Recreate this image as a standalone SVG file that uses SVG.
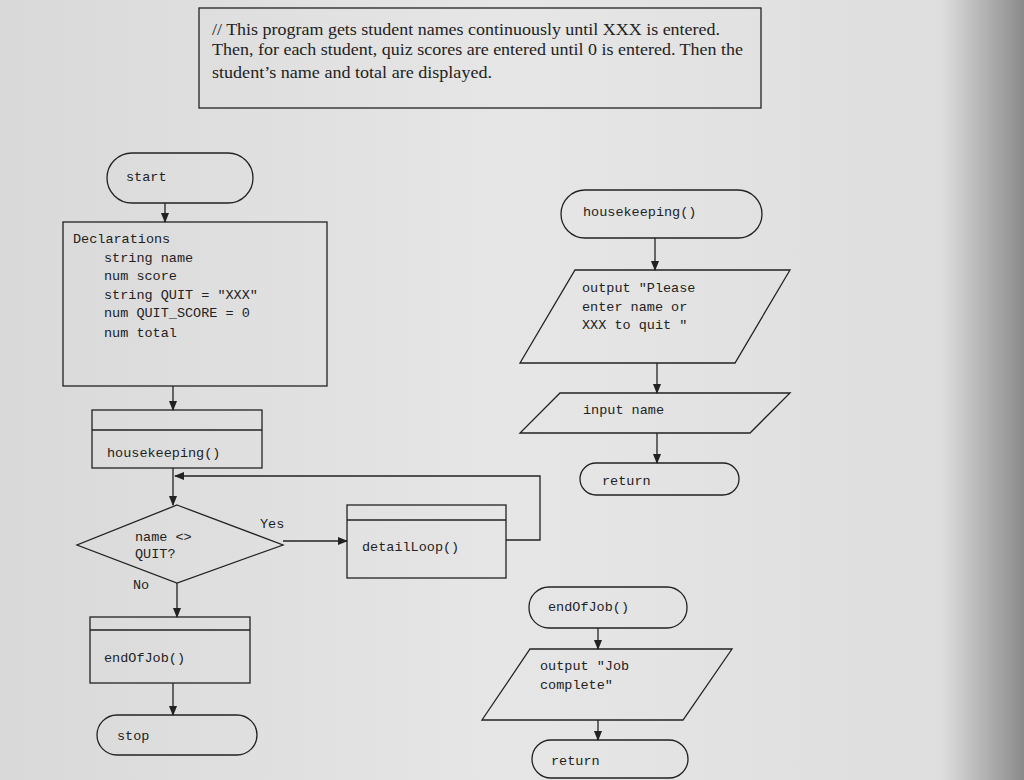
<svg xmlns="http://www.w3.org/2000/svg" width="1024" height="780" viewBox="0 0 1024 780">
<defs>
<linearGradient id="bg" x1="0" y1="0" x2="1" y2="0"><stop offset="0" stop-color="#d9d9d9"/><stop offset="0.5" stop-color="#e6e6e6"/><stop offset="0.92" stop-color="#dedede"/><stop offset="1" stop-color="#8a8a8a"/></linearGradient>
<marker id="ah" viewBox="0 0 10 10" refX="9" refY="5" markerWidth="8" markerHeight="8" orient="auto"><path d="M0,1 L10,5 L0,9 Z" fill="#222"/></marker>
</defs>
<style>
.s{fill:none;stroke:#222;stroke-width:1.3}
.c{stroke:#222;stroke-width:1.3;fill:none;marker-end:url(#ah)}
.m{font-family:"Liberation Mono",monospace;font-size:13.5px;fill:#222}
.t{font-family:"Liberation Serif",serif;font-size:17px;fill:#222}
</style>
<rect width="1024" height="780" fill="url(#bg)"/>
<g id="comment"><rect class="s" x="199" y="8" width="562" height="100"/>
<text class="t" x="212" y="35" textLength="508" lengthAdjust="spacingAndGlyphs">// This program gets student names continuously until XXX is entered.</text>
<text class="t" x="212" y="55" textLength="531" lengthAdjust="spacingAndGlyphs">Then, for each student, quiz scores are entered until 0 is entered. Then the</text>
<text class="t" x="212" y="78" textLength="280" lengthAdjust="spacingAndGlyphs">student’s name and total are displayed.</text></g>
<g id="start"><rect class="s" x="107" y="153" width="146" height="50" rx="25"/><text class="m" x="126" y="181">start</text></g>
<g id="decl"><rect class="s" x="63" y="222" width="264" height="164"/>
<text class="m" x="73" y="243">Declarations</text><text class="m" x="104" y="262">string name</text><text class="m" x="104" y="280">num score</text><text class="m" x="104" y="299">string QUIT = "XXX"</text><text class="m" x="104" y="317">num QUIT_SCORE = 0</text><text class="m" x="104" y="337">num total</text></g>
<g id="hk"><rect class="s" x="92" y="410" width="170" height="58"/><line class="s" x1="92" y1="430" x2="262" y2="430"/><text class="m" x="107" y="457">housekeeping()</text></g>
<g id="dec"><polygon class="s" points="177,505 283,545 177,583 77,545"/><text class="m" x="135" y="541">name &lt;&gt;</text><text class="m" x="135" y="558">QUIT?</text></g>
<g id="dl"><rect class="s" x="347" y="505" width="159" height="73"/><line class="s" x1="347" y1="520" x2="506" y2="520"/><text class="m" x="362" y="551">detailLoop()</text></g>
<g id="eoj"><rect class="s" x="90" y="617" width="160" height="66"/><line class="s" x1="90" y1="630" x2="250" y2="630"/><text class="m" x="104" y="662">endOfJob()</text></g>
<g id="stop"><rect class="s" x="97" y="715" width="160" height="40" rx="20"/><text class="m" x="117" y="740">stop</text></g>
<g id="hk2"><rect class="s" x="561" y="190" width="201" height="48" rx="24"/><text class="m" x="583" y="216">housekeeping()</text></g>
<g id="out1"><polygon class="s" points="575,270 790,270 735,363 520,363"/><text class="m" x="582" y="292">output "Please</text><text class="m" x="582" y="311">enter name or</text><text class="m" x="582" y="329">XXX to quit "</text></g>
<g id="in1"><polygon class="s" points="560,393 790,393 750,433 520,433"/><text class="m" x="583" y="414">input name</text></g>
<g id="ret1"><rect class="s" x="580" y="463" width="159" height="32" rx="16"/><text class="m" x="602" y="485">return</text></g>
<g id="eoj2"><rect class="s" x="529" y="587" width="158" height="41" rx="20"/><text class="m" x="548" y="611">endOfJob()</text></g>
<g id="out2"><polygon class="s" points="530,649 732,649 683,720 482,720"/><text class="m" x="540" y="670">output "Job</text><text class="m" x="540" y="689">complete"</text></g>
<g id="ret2"><rect class="s" x="532" y="740" width="156" height="38" rx="19"/><text class="m" x="551" y="765">return</text></g>
<g id="connectors">
<path class="c" d="M165,203 V222"/>
<path class="c" d="M173,386 V410"/>
<path class="c" d="M173,468 V505"/>
<path class="c" d="M506,540 H540 V476 H175"/>
<path class="c" d="M283,541 H347"/>
<path class="c" d="M177,583 V617"/>
<path class="c" d="M173,683 V715"/>
<path class="c" d="M655,238 V270"/>
<path class="c" d="M657,363 V393"/>
<path class="c" d="M657,433 V463"/>
<path class="c" d="M598,628 V649"/>
<path class="c" d="M598,720 V740"/>
<text class="m" x="260" y="528" font-size="12">Yes</text>
<text class="m" x="133" y="589" font-size="12">No</text>
</g>
</svg>
